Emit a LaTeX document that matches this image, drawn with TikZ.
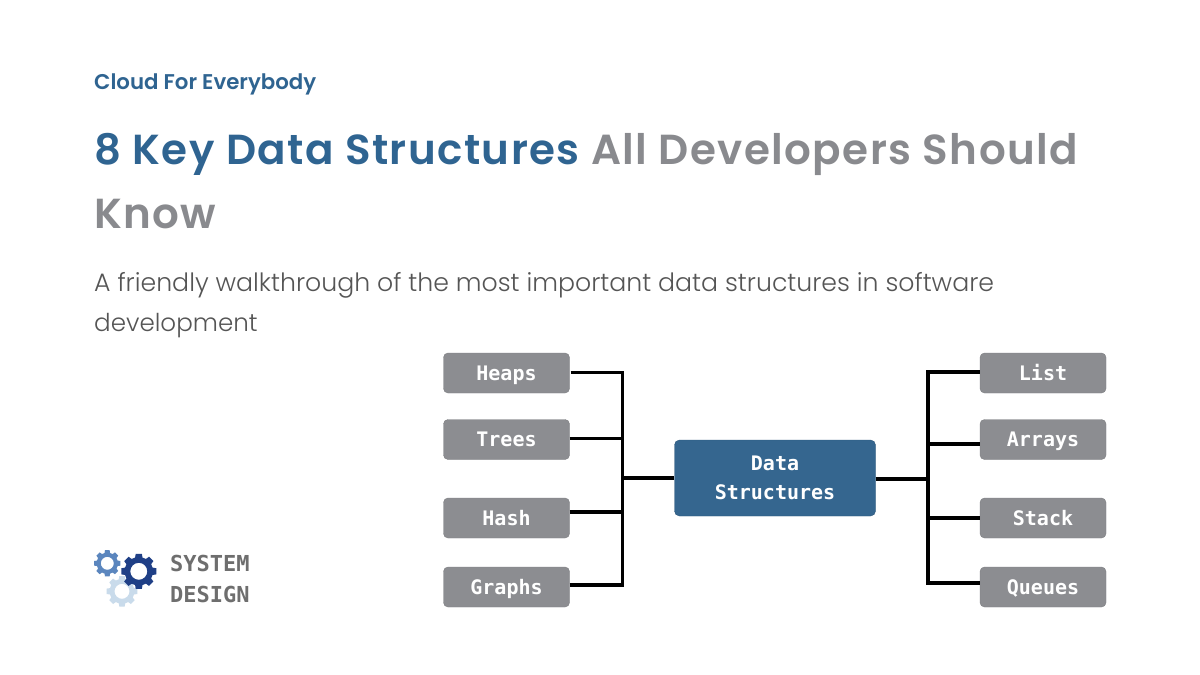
\documentclass[tikz,border=0pt]{standalone}
\usepackage{fontspec}
\setmainfont{Poppins}
\newfontfamily\monof{DejaVu Sans Mono}
\newfontfamily\titlef{Poppins SemiBold}
\newfontfamily\titlesp[LetterSpace=3.4]{Poppins SemiBold}
\newfontfamily\lightf{Poppins Light}
\usetikzlibrary{calc}
\definecolor{bluet}{HTML}{2F6491}
\definecolor{greyt}{HTML}{898A8E}
\definecolor{boxg}{HTML}{8C8D91}
\definecolor{boxb}{HTML}{35668F}
\definecolor{subt}{HTML}{555555}
\definecolor{gearA}{HTML}{5B86BE}
\definecolor{gearB}{HTML}{1F3F86}
\definecolor{gearC}{HTML}{C9DBEB}
\newcommand{\gearshape}[5]{% x y outer hole color
  \fill[#5,even odd rule] ($(#1,#2)+(-10:#3)$)
  \foreach \a in {0,45,...,315}{
    -- ($(#1,#2)+(\a-10:#3)$) -- ($(#1,#2)+(\a+10:#3)$) -- ($(#1,#2)+(\a+15:#3*0.8)$) -- ($(#1,#2)+(\a+30:#3*0.8)$)
  } -- cycle (#1,#2) circle[radius=#4];
}
\tikzset{
  x=1pt,y=-1pt,
  leaf/.style={draw=boxg!90!black,line width=0.4pt,fill=boxg,rounded corners=4.5pt,minimum width=126pt,minimum height=40pt,inner sep=0pt,text=white,text height=14.6pt,text depth=0pt,font=\monof\bfseries\fontsize{20}{22}\selectfont},
  hub/.style={draw=boxb!85!black,line width=0.4pt,fill=boxb,rounded corners=5pt,minimum width=201pt,minimum height=76pt,inner sep=0pt,text=white,align=center,font=\monof\bfseries\fontsize{20}{29}\selectfont},
  conn/.style={black,line width=3.4pt},
  txt/.style={anchor=base west,inner sep=0pt},
}
\begin{document}
\begin{tikzpicture}
\useasboundingbox (0,0) rectangle (1200,675);
\fill[white] (0,0) rectangle (1200,675);
\node[txt,text=bluet] (head) at (94,89) {\titlef\fontsize{21.3}{24}\selectfont Cloud For Everybody};
\node[txt] (t1) at (94,164) {\titlesp\fontsize{42}{44}\selectfont\textcolor{bluet}{8 Key Data Structures} \textcolor{greyt}{All Developers Should}};
\node[txt,text=greyt] (t2) at (94,228) {\titlesp\fontsize{42}{44}\selectfont Know};
\node[txt,text=subt] (s1) at (94,291) {\lightf\fontsize{25.2}{30}\selectfont A friendly walkthrough of the most important data structures in software};
\node[txt,text=subt] (s2) at (94,331) {\lightf\fontsize{24.6}{30}\selectfont development};
\gearshape{122}{591.3}{15.5}{7.5}{gearC}
\gearshape{107.3}{563.3}{13.3}{6.5}{gearA}
\gearshape{138.8}{571.3}{17.8}{8.5}{gearB}
\node[txt,text=subt!85!white] (sd1) at (170,571) {\monof\bfseries\fontsize{22}{24}\selectfont SYSTEM};
\node[txt,text=subt!85!white] (sd2) at (170,602) {\monof\bfseries\fontsize{22}{24}\selectfont DESIGN};

\node[hub] (ds) at (775,478) {Data\\Structures};
\node[leaf] (heaps) at (506.5,373) {Heaps};
\node[leaf] (trees) at (506.5,439.5) {Trees};
\node[leaf] (hash) at (506.5,518) {Hash};
\node[leaf] (graphs) at (506.5,587) {Graphs};
\node[leaf] (list) at (1043,373) {List};
\node[leaf] (arrays) at (1043,439.5) {Arrays};
\node[leaf] (stack) at (1043,518) {Stack};
\node[leaf] (queues) at (1043,587) {Queues};
\coordinate (lt) at (622.5,372.5);
\coordinate (lb) at (622.5,585);
\coordinate (rt) at (928,372);
\coordinate (rb) at (928,583);
\draw[conn,line cap=rect] (lt) -- (lb);
\draw[conn,line cap=rect] (rt) -- (rb);
\draw[conn] (heaps.east|-lt) ++(1,0) -- (lt);
\draw[conn] (trees.east) ++(0,-1) -- (622.5,438.5);
\draw[conn] (hash.east) ++(0,-6) -- (622.5,512);
\draw[conn] (graphs.east) ++(0,-2) -- (lb);
\draw[conn] (ds.west) -- (622.5,478);
\draw[conn] (ds.east) ++(0,1) -- (928,479);
\draw[conn] (rt) -- (list.west|-rt);
\draw[conn] (928,444) -- (arrays.west|-928,444);
\draw[conn] (928,518) -- (stack.west);
\draw[conn] (rb) -- (queues.west|-rb);
\end{tikzpicture}
\end{document}
